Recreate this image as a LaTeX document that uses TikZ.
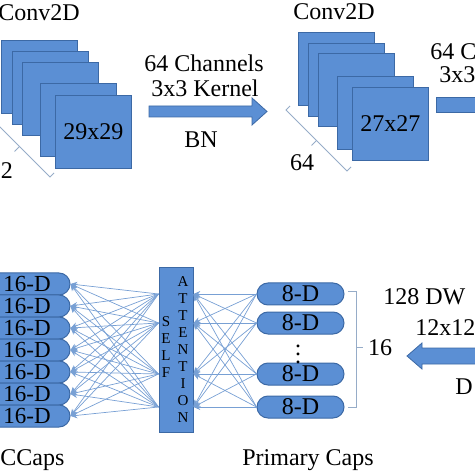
\documentclass[tikz,border=0pt]{standalone}
\usepackage{fontspec}
\setmainfont{Liberation Serif}
\usetikzlibrary{arrows.meta}
\definecolor{capblue}{RGB}{91,143,212}
\definecolor{edgeblue}{RGB}{60,105,165}
\definecolor{linkblue}{RGB}{120,160,212}
\definecolor{bracegray}{RGB}{150,172,200}

\begin{document}
\begin{tikzpicture}[x=0.5pt, y=-0.5pt, >={Stealth[length=3.4pt,width=3pt]},
    every node/.style={font=\fontsize{12}{14}\selectfont},
    sq/.style={draw=edgeblue, fill=capblue, line width=0.4pt, minimum width=38pt,
        minimum height=36.5pt, anchor=north west, inner sep=0pt},
    caps/.style={draw=edgeblue, fill=capblue, line width=0.5pt, minimum height=11pt,
        rounded corners=5.5pt, inner sep=0pt},
    link/.style={draw=linkblue, line width=0.35pt, ->},
    brk/.style={draw=bracegray, line width=0.5pt},
    blockarrow/.style={fill=capblue, draw=edgeblue, line width=0.4pt},
    lbl/.style={anchor=west, inner sep=0pt},
    letter/.style={font=\fontsize{7.5}{9}\selectfont, inner sep=0pt}]
\useasboundingbox (0,0) rectangle (474,474);

% first Conv2D stack
\foreach \px/\py [count=\i] in {1/40,12/51,22/62,40/83}
    \node[sq] (a\i) at (\px,\py) {};
\node[sq] (a5) at (55,95) {29x29};
\node (conv1) at (39,13) {Conv2D};
\draw[brk] (-7,112) -- (-11,116) -- (50,177) -- (54,173);
\draw[brk] (19.5,146.5) -- ++(-5,5);
\node (num1) at (7,171) {2};

% arrow to second stack
\filldraw[blockarrow] (149,106) -- (252,106) -- (252,98) -- (267,111.5)
    -- (252,125) -- (252,117) -- (149,117) -- cycle;
\node (ch1) at (204,63) {64 Channels};
\node (ker1) at (205,88) {3x3 Kernel};
\node (bn1) at (201,140) {BN};

% second Conv2D stack
\foreach \px/\py [count=\i] in {298/32,308/43,318/53,337/76}
    \node[sq] (b\i) at (\px,\py) {};
\node[sq] (b5) at (352,87) {27x27};
\node (conv2) at (334,12) {Conv2D};
\draw[brk] (290,106) -- (286,110) -- (347,171) -- (351,167);
\draw[brk] (316.5,140.5) -- ++(-5,5);
\node (num2) at (302,163) {64};

% arrow leaving the second stack
\filldraw[blockarrow] (436,97) -- (500,97) -- (500,112) -- (436,112) -- cycle;
\node[lbl] (ch2) at (430,52) {64 C};
\node[lbl] (ker2) at (439,75) {3x3};

% primary capsules
\foreach \y [count=\i] in {294,323,374,407}
    \node[caps, minimum width=43.5pt] (p\i) at (300.5,\y) {8-D};
\node (dots) at (298,348) {$\vdots$};
\draw[brk] (348,292) -- (356,292) -- (356,407) -- (348,407);
\draw[brk] (356,347) -- (363,347);
\node (n16) at (380,348) {16};
\node (prim) at (308,460) {Primary Caps};

% arrow into primary capsules
\filldraw[blockarrow] (500,348) -- (422,348) -- (422,343) -- (407,356)
    -- (422,369) -- (422,364) -- (500,364) -- cycle;
\node[lbl] (dw) at (383,297) {128 DW};
\node[lbl] (ker3) at (415,328) {12x12};
\node[lbl] (dd) at (455,387) {D};

% self attention block
\node[draw=edgeblue, fill=capblue, line width=0.5pt, minimum width=17pt,
    minimum height=82pt, inner sep=0pt] (sa) at (176,350) {};
\foreach \c [count=\i] in {S,E,L,F}
    \node[letter] (self\i) at (166,305+17*\i) {\c};
\foreach \c [count=\i] in {A,T,T,E,N,T,I,O,N}
    \node[letter] (att\i) at (183,265+16.9*\i) {\c};

% class capsules
\foreach \y [count=\i] in {284,306,328,350,372,394,416}
    \node[caps, minimum width=43pt, font=\fontsize{11.5}{13}\selectfont] (d\i) at (27,\y) {16-D};
\node[lbl] (ccaps) at (0,460) {CCaps};

% connections
\foreach \k in {1,...,7}
    \foreach \j in {1,...,4}
        \draw[link] (sa.west |- p\j) -- (d\k.east);
\foreach \i in {1,...,4}
    \foreach \j in {1,...,4}
        \draw[link] (p\j.west) -- (sa.east |- p\i);
\end{tikzpicture}
\end{document}
